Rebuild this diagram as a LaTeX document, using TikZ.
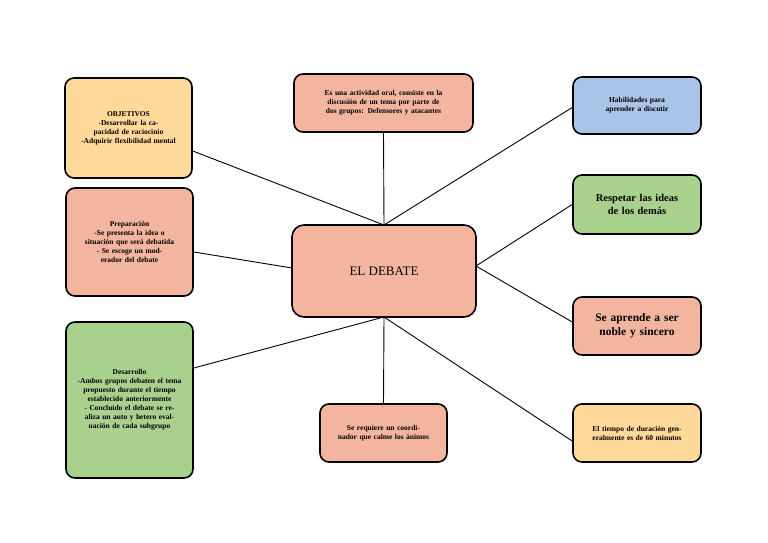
\documentclass[tikz,border=0pt]{standalone}
\usepackage{fontspec}
\setmainfont{Liberation Serif}
\begin{document}
\begin{tikzpicture}[x=1pt,y=-1pt,
 bx/.style={draw=black,line width=1.6pt,rounded corners=9pt,align=center,inner sep=2pt,font=\bfseries\fontsize{7.5}{9}\selectfont},
 ln/.style={line width=0.9pt}]
\definecolor{yel}{HTML}{FFD99A}\definecolor{sal}{HTML}{F4B5A0}\definecolor{grn}{HTML}{A9D18E}\definecolor{blu}{HTML}{A9C4E8}
\useasboundingbox (0,0) rectangle (768,543);
\newcommand\bxat[6]{\node[bx,fill=#5,minimum width=#3-#1,minimum height=#4-#2,text width=#3-#1-14] (#6) at ({(#1+#3)/2},{(#2+#4)/2})}
\bxat{65}{78}{192}{178}{yel}{obj}{OBJETIVOS\\-Desarrollar la capacidad de raciocinio\\-Adquirir flexibilidad mental};
\bxat{66}{188}{193}{296}{sal}{prep}{Preparación\\-Se presenta la idea o situación que será debatida\\- Se escoge un moderador del debate};
\bxat{66}{322}{193}{478}{grn}{des}{Desarrollo\\-Ambos grupos debaten el tema propuesto durante el tiempo establecido anteriormente\\- Concluido el debate se realiza un auto y hetero evaluación de cada subgrupo};
\bxat{294}{74}{473}{132}{sal}{top}{Es una actividad oral, consiste en la discusión de un tema por parte de dos grupos: Defensores y atacantes};
\node[bx,fill=sal,minimum width=184,minimum height=92,font=\fontsize{13}{15}\selectfont,rounded corners=12pt] (c) at (384,271) {EL DEBATE};
\bxat{573}{77}{701}{134}{blu}{hab}{Habilidades para aprender a discutir};
\node[bx,fill=grn,minimum width=128,minimum height=59,text width=110,font=\bfseries\fontsize{10.5}{13}\selectfont] (res) at (637,204.5) {Respetar las ideas de los demás};
\node[bx,fill=sal,minimum width=128,minimum height=58,text width=110,font=\bfseries\fontsize{11.5}{14}\selectfont] (apr) at (637,326) {Se aprende a ser noble y sincero};
\bxat{573}{404}{701}{462}{yel}{tie}{El tiempo de duración generalmente es de 60 minutos};
\bxat{320}{404}{447}{462}{sal}{req}{Se requiere un coordinador que calme los ánimos};
\coordinate (ct) at (384,225);\coordinate (cb) at (384,317);
\coordinate (cl) at (292,268);\coordinate (cr) at (476,266);
\draw[ln] ([yshift=-23]obj.east) -- (ct);
\draw[ln] (top.south) -- (ct);
\draw[ln] ([yshift=-2]hab.west) -- (ct);
\draw[ln] ([yshift=-10]prep.east) -- (cl);
\draw[ln] ([yshift=32]des.east) -- (cb);
\draw[ln] (req.north) -- (cb);
\draw[ln] ([yshift=-8]tie.west) -- (cb);
\draw[ln] (res.west) -- (cr);
\draw[ln] ([yshift=4]apr.west) -- (cr);
\end{tikzpicture}
\end{document}
